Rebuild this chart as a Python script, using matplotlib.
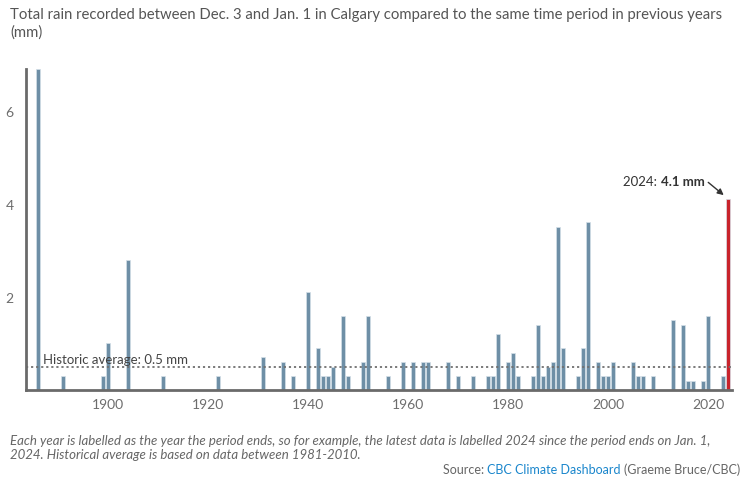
import matplotlib.pyplot as plt
import numpy as np

plt.rcParams['font.family'] = ['Lato', 'DejaVu Sans']

years = [1886, 1891, 1899, 1900, 1904, 1911, 1922, 1931, 1935, 1937,
         1940, 1942, 1943, 1944, 1945, 1947, 1948, 1951, 1952, 1956,
         1959, 1961, 1963, 1964, 1968, 1970, 1973, 1976, 1977, 1978,
         1980, 1981, 1982, 1985, 1986, 1987, 1988, 1989, 1990, 1991,
         1994, 1995, 1996, 1998, 1999, 2000, 2001, 2005, 2006, 2007,
         2009, 2013, 2015, 2016, 2017, 2019, 2020, 2023, 2024]
rain = [6.9, 0.3, 0.3, 1.0, 2.8, 0.3, 0.3, 0.7, 0.6, 0.3,
        2.1, 0.9, 0.3, 0.3, 0.5, 1.6, 0.3, 0.6, 1.6, 0.3,
        0.6, 0.6, 0.6, 0.6, 0.6, 0.3, 0.3, 0.3, 0.3, 1.2,
        0.6, 0.8, 0.3, 0.3, 1.4, 0.3, 0.5, 0.6, 3.5, 0.9,
        0.3, 0.9, 3.6, 0.6, 0.3, 0.3, 0.6, 0.6, 0.3, 0.3,
        0.3, 1.5, 1.4, 0.2, 0.2, 0.2, 1.6, 0.3, 4.1]
hist_avg = 0.5
xticks = [1900, 1920, 1940, 1960, 1980, 2000, 2020]

grey = '#6d6d6d'
colors = ['#6e8fa6'] * (len(years) - 1) + ['#c8232b']

fig = plt.figure(figsize=(7.56, 4.89), dpi=100)
ax = fig.add_axes([0.0344, 0.2004, 0.934, 0.6566])
W, H = 756, 489


def fit(t, width_px):
    # shrink/grow a text so its widest line is width_px wide
    fig.canvas.draw()
    w = t.get_window_extent(fig.canvas.get_renderer()).width
    t.set_fontsize(t.get_fontsize() * width_px / w)


ax.bar(years, rain, width=0.85, color=colors, edgecolor='#d5e0e8', linewidth=0.5)
ax.axhline(hist_avg, color='#707070', linestyle=(0, (1.2, 1.6)), linewidth=1.3)
ax.text(1887, hist_avg + 0.04, 'Historic average: 0.5 mm', fontsize=9.5, color='#444444',
        va='bottom', ha='left')

ax.set_xlim(1883.6, 2024.8)
ax.set_ylim(0, 6.9)
ax.set_yticks([2, 4, 6])
ax.set_xticks(xticks)
ax.tick_params(length=0, labelsize=10, colors=grey, pad=6)
ax.tick_params(axis='y', pad=9)
for s in ['top', 'right']:
    ax.spines[s].set_visible(False)
for s in ['left', 'bottom']:
    ax.spines[s].set_color('#6a6a6a')
    ax.spines[s].set_linewidth(2)

# 2024 annotation
ax.annotate('', xy=(2023.55, 4.15), xytext=(2019.6, 4.5),
            arrowprops=dict(arrowstyle='-|>', color='#333333', lw=1, mutation_scale=9))
t1 = ax.text(2019.3, 4.5, '4.1 mm', fontsize=9.5, fontweight='bold', color='#333333',
             ha='right', va='center')
fig.canvas.draw()
bb = t1.get_window_extent(fig.canvas.get_renderer())
fig.text(bb.x0 / W, (bb.y0 + bb.y1) / 2 / H, '2024: ',
         fontsize=9.5, color='#333333', ha='right', va='center')

title = fig.text(10 / W, 1 - 8 / H, 'Total rain recorded between Dec. 3 and Jan. 1 in Calgary compared to the same time period in previous years\n(mm)',
                 fontsize=10, color='#555555', ha='left', va='top', linespacing=1.3)
fit(title, 711)

note = fig.text(10 / W, 1 - 448 / H, 'Each year is labelled as the year the period ends, so for example, the latest data is labelled 2024 since the period ends on Jan. 1,\n2024. Historical average is based on data between 1981-2010.',
                fontsize=9.5, color='#666666', style='italic', ha='left', va='center', linespacing=1.25)
fit(note, 706)

# source line, right aligned in pieces
x = 740 / W
parts = [('(Graeme Bruce/CBC)', '#666666'), ('CBC Climate Dashboard ', '#1a86cc'), ('Source: ', '#666666')]
for txt, c in parts:
    t = fig.text(x, 1 - 470 / H, txt, fontsize=9, color=c, ha='right', va='center')
    fig.canvas.draw()
    x = t.get_window_extent(fig.canvas.get_renderer()).x0 / W

fig.savefig('out.png', dpi=100)
